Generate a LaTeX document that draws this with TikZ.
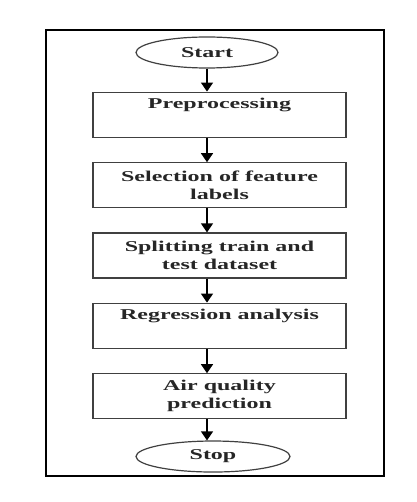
\documentclass[tikz,border=0pt]{standalone}
\usepackage{fontspec}
\newfontfamily\flowfont{Liberation Serif}[FakeStretch=1.6]
\usetikzlibrary{shapes,arrows.meta,positioning}

\begin{document}
\begin{tikzpicture}[x=1pt,y=-1pt,>={Triangle[width=12pt,length=9pt]},line width=1.2pt,node distance=24pt,
  every node/.style={font=\flowfont\bfseries\fontsize{15}{18}\selectfont,text=black!85},
  term/.style={ellipse,draw=black!75,minimum width=142pt,minimum height=31pt,inner sep=0pt},
  stepbox/.style={rectangle,draw=black!75,minimum width=253pt,minimum height=45pt,align=center,inner ysep=6pt},
  oneline/.style={stepbox,text depth=23pt}]
\useasboundingbox (0,0) rectangle (416,502);
\draw[line width=1.8pt] (46,30) rectangle (384,476);

\node[term](q1) at (207,52.5){Start};
\node[oneline](q2)[below=23pt of q1,xshift=12.5pt]{Preprocessing};
\node[stepbox](q3)[below=of q2]{Selection of feature\\labels};
\node[stepbox](q4)[below=of q3]{Splitting train and\\test dataset};
\node[oneline](q5)[below=of q4]{Regression analysis};
\node[stepbox](q6)[below=of q5]{Air quality\\prediction};
\node[term,minimum width=154pt](q7)[below=21pt of q6,xshift=-6.5pt]{Stop};

\draw[->](q1)--(q2.north -| q1); \draw[->](q2.south -| q1)--(q3.north -| q1);
\draw[->](q3.south -| q1)--(q4.north -| q1); \draw[->](q4.south -| q1)--(q5.north -| q1);
\draw[->](q5.south -| q1)--(q6.north -| q1); \draw[->](q6.south -| q1)--(q7.north -| q1);
\end{tikzpicture}
\end{document}
